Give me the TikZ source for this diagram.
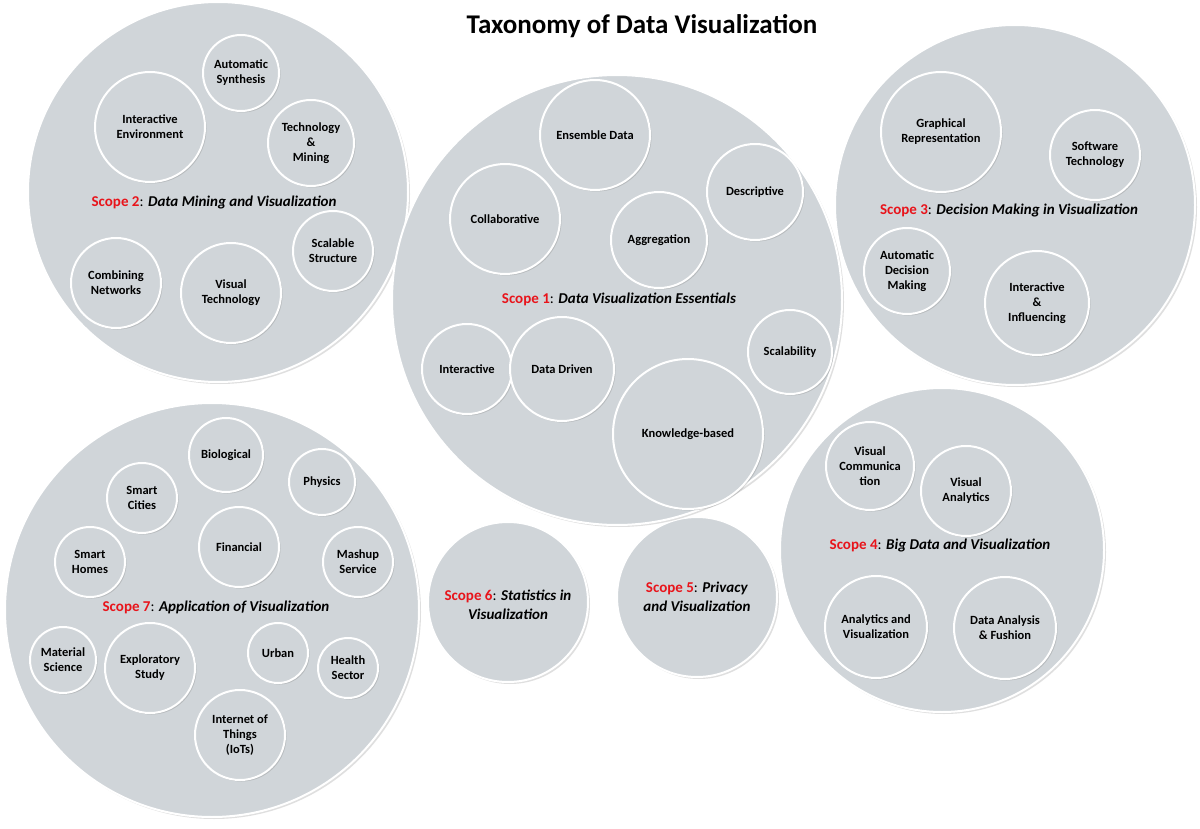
\documentclass[tikz,border=0pt]{standalone}
\usepackage{fontspec}
\setmainfont{Carlito}
\usetikzlibrary{shadows}
\definecolor{bub}{HTML}{D0D5D9}
\definecolor{sred}{HTML}{E8141B}
\tikzset{
 big/.style={circle,fill=bub,draw=white,line width=2pt,drop shadow={shadow xshift=2pt,shadow yshift=-2pt,opacity=0.25},inner sep=0pt},
 sm/.style={circle,fill=bub,draw=white,line width=2pt,drop shadow={shadow xshift=1.5pt,shadow yshift=-1.5pt,opacity=0.3},inner sep=0pt,align=center,font=\fontsize{12.5}{15}\selectfont\bfseries},
 lab/.style={font=\fontsize{15}{19}\selectfont,align=center}
}
\newcommand{\scopelab}[2]{{\color{sred}\bfseries Scope #1}: \textbf{\itshape #2}}
\begin{document}
\begin{tikzpicture}[x=1pt,y=-1pt]
\useasboundingbox[fill=white] (0,0) rectangle (1200,829);
\node[font=\fontsize{27}{30}\selectfont\bfseries] (title) at (642,26) {Taxonomy of Data Visualization};
% big circles
\node[big,minimum size=380] (s2) at (218,192) {};
\node[big,minimum size=360] (s3) at (1015,205) {};
\node[big,minimum size=414] (s7) at (212,610) {};
\node[big,minimum size=324] (s4) at (942,550) {};
\node[big,minimum size=160] (s6) at (508,602) {};
\node[big,minimum size=160] (s5) at (697,597) {};
\node[big,minimum size=450] (s1) at (617,300) {};
% scope 2
\node[sm,minimum size=76] (a1) at (241,73) {Automatic\\Synthesis};
\node[sm,minimum size=110] (a2) at (150,127) {Interactive\\Environment};
\node[sm,minimum size=86] (a3) at (311,143) {Technology\\\&\\Mining};
\node[sm,minimum size=90] (a4) at (116,283) {Combining\\Networks};
\node[sm,minimum size=100] (a5) at (231,293) {Visual\\Technology};
\node[sm,minimum size=80] (a6) at (333,251) {Scalable\\Structure};
\node[lab] (l2) at (214,202) {\scopelab{2}{Data Mining and Visualization}};
% scope 1
\node[sm,minimum size=110] (b1) at (595,135) {Ensemble Data};
\node[sm,minimum size=110] (b2) at (505,219) {Collaborative};
\node[sm,minimum size=96] (b3) at (755,192) {Descriptive};
\node[sm,minimum size=96] (b4) at (659,240) {Aggregation};
\node[sm,minimum size=90] (b5) at (467,369) {Interactive};
\node[sm,minimum size=104] (b6) at (562,369) {Data Driven};
\node[sm,minimum size=84] (b7) at (790,352) {Scalability};
\node[sm,minimum size=150] (b8) at (688,434) {Knowledge-based};
\node[lab] (l1) at (619,299) {\scopelab{1}{Data Visualization Essentials}};
% scope 3
\node[sm,minimum size=120] (c1) at (941,132) {Graphical\\Representation};
\node[sm,minimum size=90] (c2) at (1095,155) {Software\\Technology};
\node[sm,minimum size=86] (c3) at (907,271) {Automatic\\Decision\\Making};
\node[sm,minimum size=104] (c4) at (1037,303) {Interactive\\\&\\Influencing};
\node[lab] (l3) at (1009,210) {\scopelab{3}{Decision Making in Visualization}};
% scope 4
\node[sm,minimum size=88] (d1) at (870,466) {Visual\\Communica\\tion};
\node[sm,minimum size=90] (d2) at (966,491) {Visual\\Analytics};
\node[sm,minimum size=102] (d3) at (876,627) {Analytics and\\Visualization};
\node[sm,minimum size=102] (d4) at (1005,628) {Data Analysis\\\& Fushion};
\node[lab] (l4) at (940,545) {\scopelab{4}{Big Data and Visualization}};
% scope 5,6
\node[lab] (l6) at (508,605) {{\color{sred}\bfseries Scope 6}: \textbf{\itshape Statistics in}\\\textbf{\itshape Visualization}};
\node[lab] (l5) at (697,597) {{\color{sred}\bfseries Scope 5}: \textbf{\itshape Privacy}\\\textbf{\itshape and Visualization}};
% scope 7
\node[sm,minimum size=74] (e1) at (226,455) {Biological};
\node[sm,minimum size=70] (e2) at (142,498) {Smart\\Cities};
\node[sm,minimum size=66] (e3) at (322,482) {Physics};
\node[sm,minimum size=70] (e4) at (90,562) {Smart\\Homes};
\node[sm,minimum size=80] (e5) at (239,547) {Financial};
\node[sm,minimum size=70] (e6) at (358,562) {Mashup\\Service};
\node[sm,minimum size=66] (e7) at (63,660) {Material\\Science};
\node[sm,minimum size=90] (e8) at (150,668) {Exploratory\\Study};
\node[sm,minimum size=60] (e9) at (278,653) {Urban};
\node[sm,minimum size=60] (e10) at (348,668) {Health\\Sector};
\node[sm,minimum size=90] (e11) at (240,735) {Internet of\\Things\\(IoTs)};
\node[lab] (l7) at (216,607) {\scopelab{7}{Application of Visualization}};
\end{tikzpicture}
\end{document}
